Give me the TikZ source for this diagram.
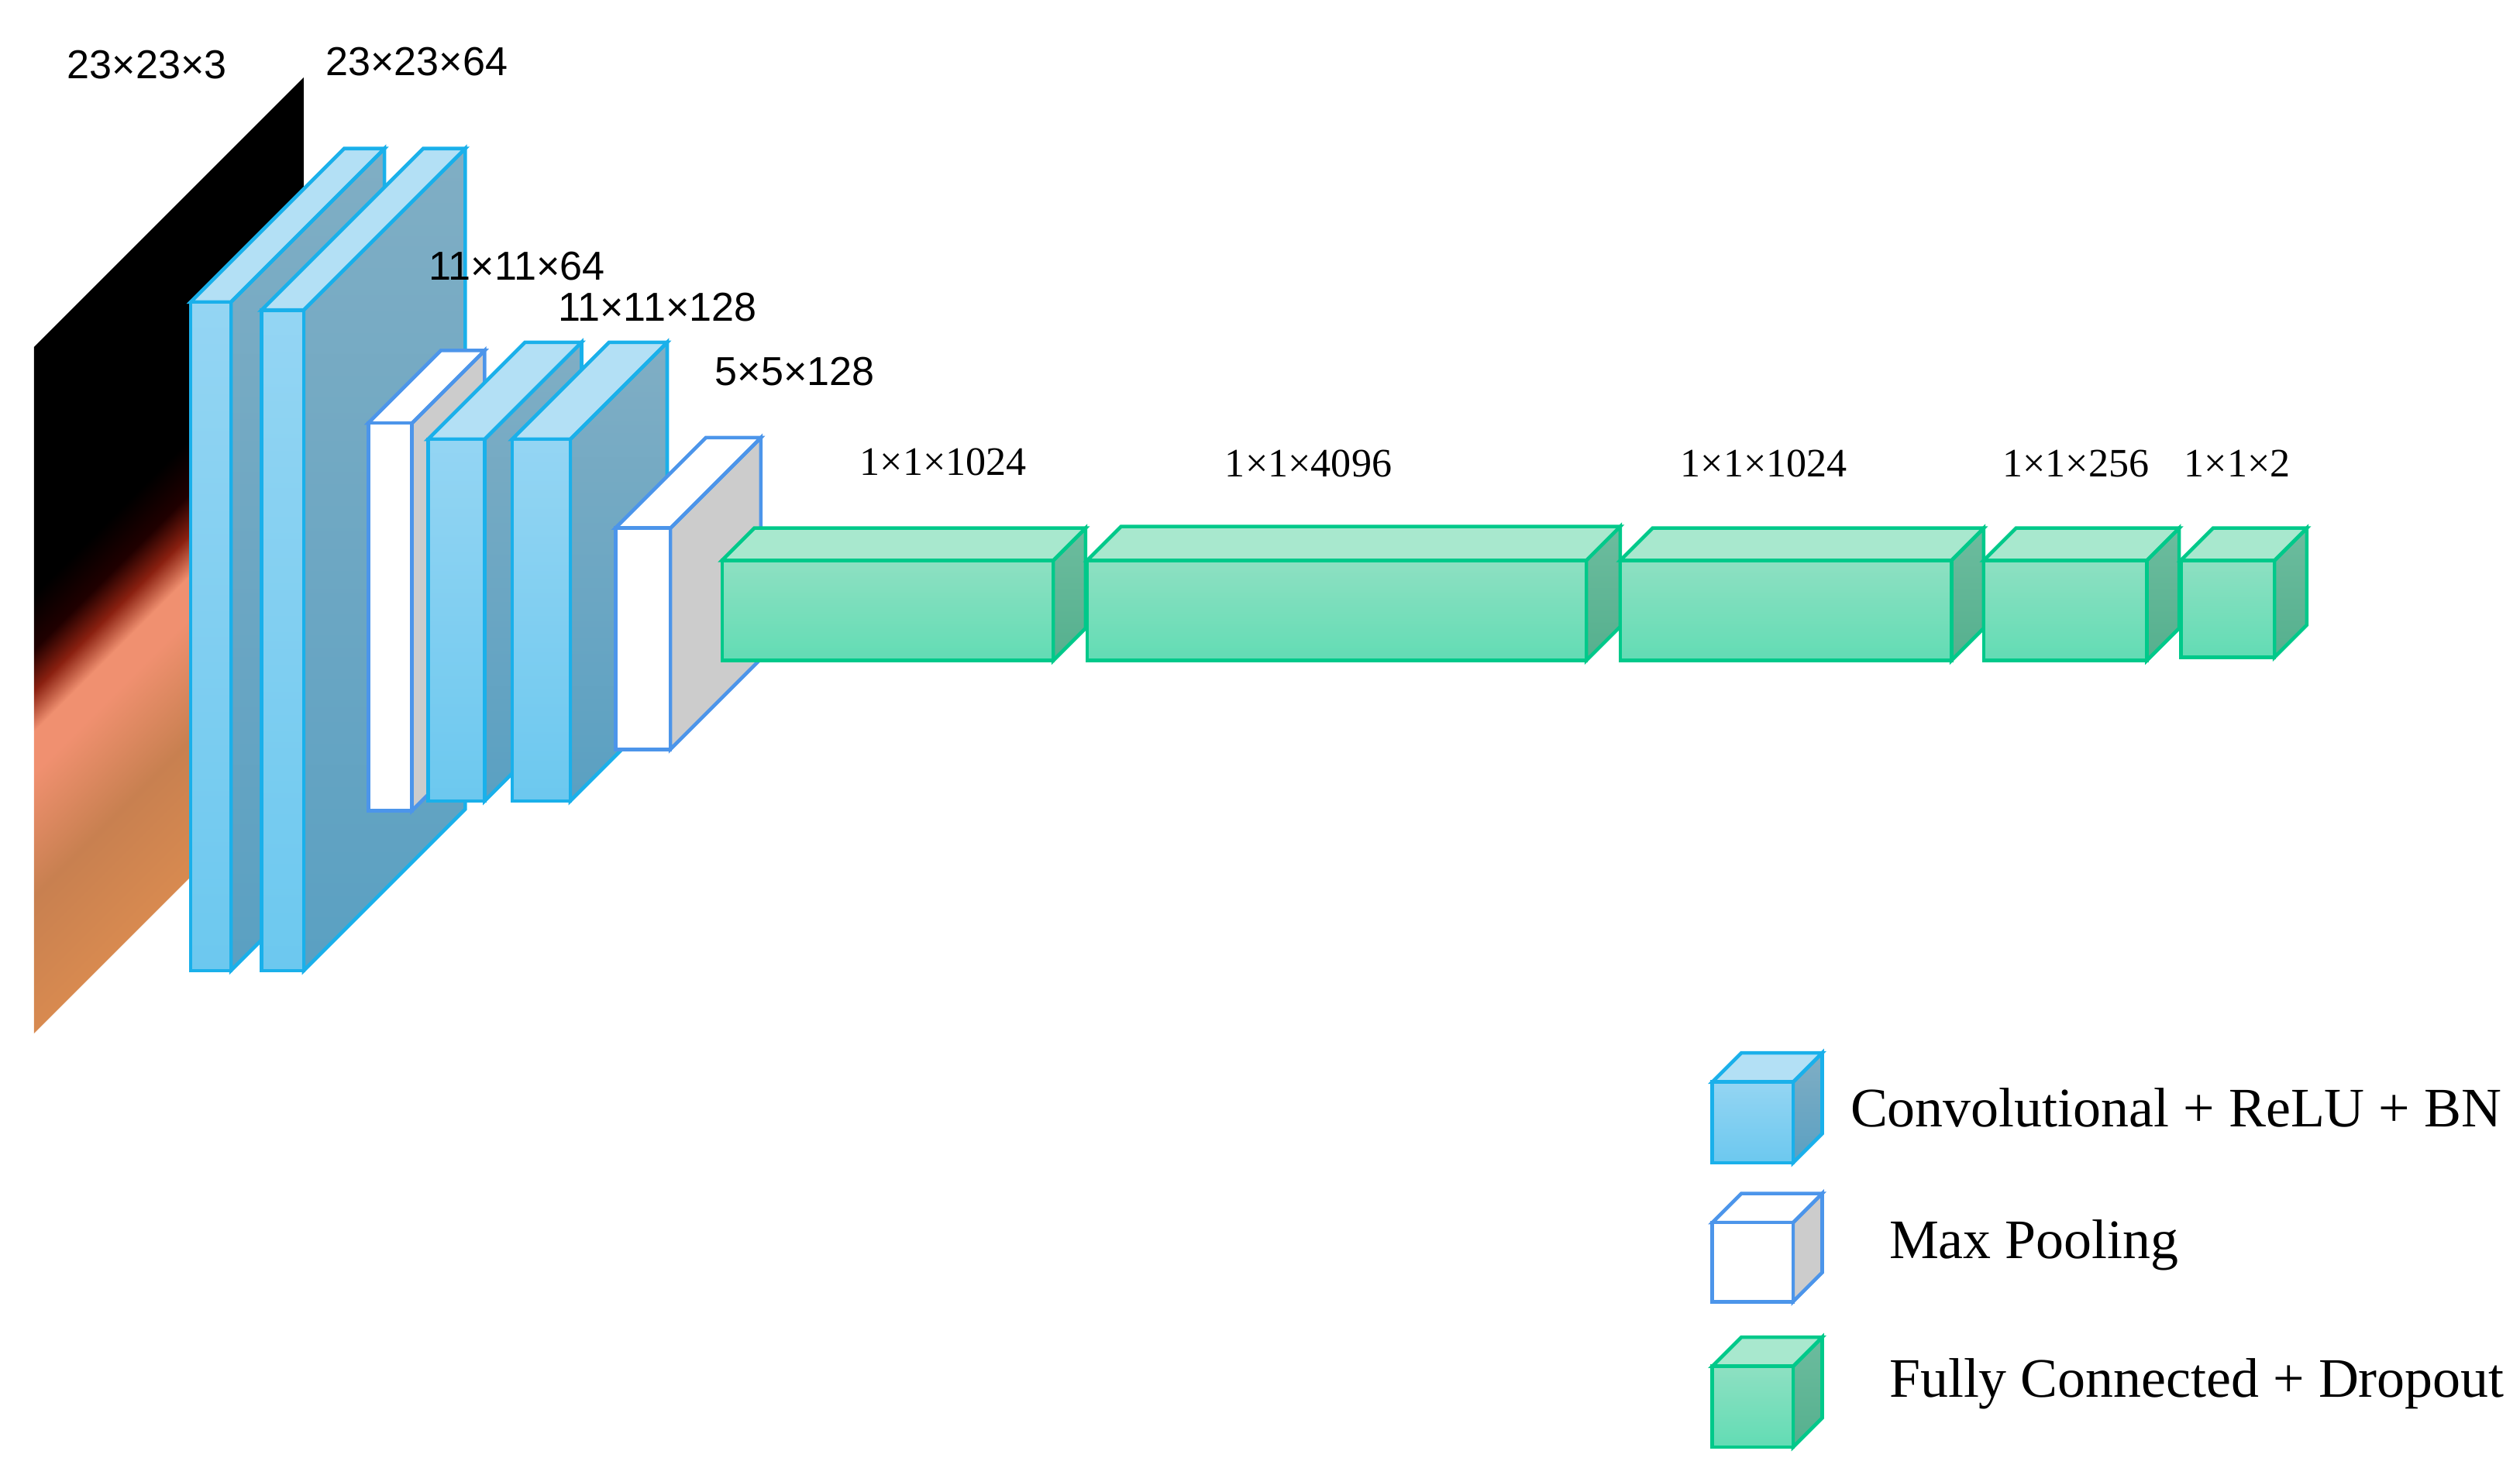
\documentclass[tikz,border=0pt]{standalone}
\usepackage{fontspec}
\setmainfont{Liberation Serif}
\newfontfamily\sansf{Liberation Sans}
\definecolor{bline}{HTML}{1AB0EA}
\definecolor{btop}{HTML}{B3E0F5}
\definecolor{bf1}{HTML}{94D5F3}
\definecolor{bf2}{HTML}{6CC8EF}
\definecolor{bs1}{HTML}{80AEC4}
\definecolor{bs2}{HTML}{5AA0C2}
\definecolor{pline}{HTML}{4C95EA}
\definecolor{pside}{HTML}{CCCCCC}
\definecolor{gline}{HTML}{00C98A}
\definecolor{gtop}{HTML}{A8E8CE}
\definecolor{gf1}{HTML}{8EE0C2}
\definecolor{gf2}{HTML}{62DCB4}
\definecolor{gs1}{HTML}{6CBC9E}
\definecolor{gs2}{HTML}{55B08E}
\definecolor{o1}{HTML}{D88A50}
\definecolor{o2}{HTML}{C88050}
\definecolor{o3}{HTML}{F09070}
\definecolor{o4}{HTML}{8A2010}
\definecolor{o5}{HTML}{200000}
\pgfdeclareverticalshading{inp}{100bp}{color(0bp)=(o1); color(25bp)=(o1); color(35bp)=(o2); color(44bp)=(o3); color(47bp)=(o3); color(50bp)=(o4); color(53bp)=(o5); color(57bp)=(black); color(100bp)=(black)}
\tikzset{
 ln/.style={line width=2.2pt, line join=miter},
 bside/.style={ln, draw=bline, top color=bs1, bottom color=bs2},
 btop/.style={ln, draw=bline, fill=btop},
 bfront/.style={ln, draw=bline, top color=bf1, bottom color=bf2},
 pside/.style={ln, draw=pline, fill=pside},
 ptop/.style={ln, draw=pline, fill=white},
 pfront/.style={ln, draw=pline, fill=white},
 gside/.style={ln, draw=gline, top color=gs1, bottom color=gs2},
 gtop/.style={ln, draw=gline, fill=gtop},
 gfront/.style={ln, draw=gline, top color=gf1, bottom color=gf2},
 dim/.style={font=\sansf\fontsize{25}{25}\selectfont},
 fcl/.style={font=\fontsize{25}{25}\selectfont},
 leg/.style={font=\fontsize{34.5}{34.5}\selectfont, anchor=west},
}
\newcommand\blk[6]{%
 \path[#6side] (#2,#3)--++(#5,-#5)--(#2+#5,#4-#5)--(#2,#4)--cycle;
 \path[#6top] (#1,#3)--++(#5,-#5)--(#2+#5,#3-#5)--(#2,#3)--cycle;
 \path[#6front] (#1,#3) rectangle (#2,#4);}
\begin{document}
\begin{tikzpicture}[x=1pt,y=-1pt]
\useasboundingbox (0,0) rectangle (1560,913);
% input image
\begin{scope}[transform canvas={cm={1,1,0,1,(21,640)}}]
\shade[shading=inp] (0,0) rectangle (167,-425);
\end{scope}
% conv/pool blocks
\blk{118}{143}{187}{601}{95}{b}
\blk{162}{188}{192}{601}{100}{b}
\blk{228}{255}{262}{502}{45}{p}
\blk{265}{300}{272}{496}{60}{b}
\blk{317}{353}{272}{496}{60}{b}
\blk{381}{415}{327}{464}{56}{p}
% FC blocks
\blk{447}{652}{347}{409}{20}{g}
\blk{673}{982}{347}{409}{21}{g}
\blk{1003}{1208}{347}{409}{20}{g}
\blk{1228}{1329}{347}{409}{20}{g}
\blk{1350}{1408}{347}{407}{20}{g}
% labels
\node[dim] (l1) at (91,40) {23×23×3};
\node[dim] (l2) at (258,38) {23×23×64};
\node[dim] (l3) at (320,165) {11×11×64};
\node[dim] (l4) at (407,190) {11×11×128};
\node[dim] (l5) at (492,230) {5×5×128};
\node[fcl] (f1) at (584,286) {1×1×1024};
\node[fcl] (f2) at (810,287) {1×1×4096};
\node[fcl] (f3) at (1092,287) {1×1×1024};
\node[fcl] (f4) at (1285,287) {1×1×256};
\node[fcl] (f5) at (1385,287) {1×1×2};
% legend
\blk{1060}{1110}{670}{720}{18}{b}
\blk{1060}{1110}{757}{806}{18}{p}
\blk{1060}{1110}{846}{896}{18}{g}
\node[leg] (t1) at (1142,686) {Convolutional + ReLU + BN};
\node[leg] (t2) at (1166,771) {Max Pooling};
\node[leg] (t3) at (1166,857) {Fully Connected + Dropout};
\end{tikzpicture}
\end{document}
